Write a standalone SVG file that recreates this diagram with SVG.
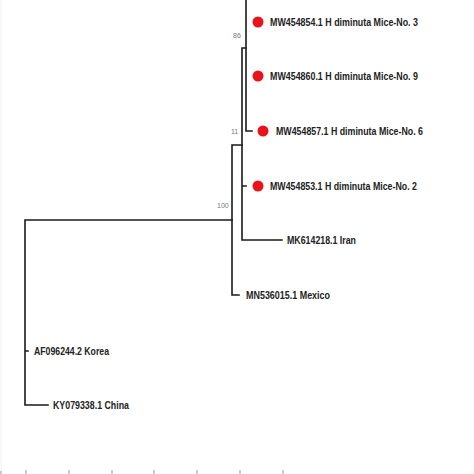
<svg xmlns="http://www.w3.org/2000/svg" width="474" height="474" viewBox="0 0 474 474">
<style>
.br{stroke:#1a1a1a;stroke-width:1.6;fill:none;stroke-linecap:square}
.lb{font-family:"Liberation Sans",Arial,sans-serif;font-size:11px;font-weight:bold;fill:#222}
.bs{font-family:"Liberation Sans",Arial,sans-serif;font-size:7px;fill:#777}
.dot{fill:#e8141c}
.tk{stroke:#999;stroke-width:1}
</style>
<rect width="474" height="474" fill="#fff"/>
<line x1="1" y1="0" x2="1" y2="474" stroke="#f0f0f0" stroke-width="1"/>
<g id="connectors">
<path class="br" d="M25,220 H232 M25,220 V405 H48 M25,351 H28"/>
<path class="br" d="M232,145 V295 H239 M232,145 H242"/>
<path class="br" d="M242,48 V240 H282 M242,186 H246 M242,48 H246"/>
<path class="br" d="M246,0 V131 H252"/>
</g>
<g id="bootstrap">
<text class="bs" x="233" y="38">86</text>
<text class="bs" x="231" y="134">11</text>
<text class="bs" x="217" y="208">100</text>
</g>
<g id="n3"><circle class="dot" cx="258" cy="22" r="5.5"/><text class="lb" x="270" y="26" textLength="148" lengthAdjust="spacingAndGlyphs">MW454854.1 H diminuta Mice-No. 3</text></g>
<g id="n9"><circle class="dot" cx="258" cy="76" r="5.5"/><text class="lb" x="270" y="80" textLength="148" lengthAdjust="spacingAndGlyphs">MW454860.1 H diminuta Mice-No. 9</text></g>
<g id="n6"><circle class="dot" cx="263" cy="131" r="5.5"/><text class="lb" x="276" y="135" textLength="147" lengthAdjust="spacingAndGlyphs">MW454857.1 H diminuta Mice-No. 6</text></g>
<g id="n2"><circle class="dot" cx="258" cy="186" r="5.5"/><text class="lb" x="270" y="190" textLength="147" lengthAdjust="spacingAndGlyphs">MW454853.1 H diminuta Mice-No. 2</text></g>
<g id="iran"><text class="lb" x="287" y="244" textLength="69" lengthAdjust="spacingAndGlyphs">MK614218.1 Iran</text></g>
<g id="mexico"><text class="lb" x="246" y="299" textLength="84" lengthAdjust="spacingAndGlyphs">MN536015.1 Mexico</text></g>
<g id="korea"><text class="lb" x="34" y="355" textLength="75" lengthAdjust="spacingAndGlyphs">AF096244.2 Korea</text></g>
<g id="china"><text class="lb" x="53" y="409" textLength="76" lengthAdjust="spacingAndGlyphs">KY079338.1 China</text></g>
<g id="axis">
<line class="tk" x1="1" y1="471" x2="1" y2="474"/>
<line class="tk" x1="26" y1="470" x2="26" y2="474"/>
<line class="tk" x1="69" y1="470" x2="69" y2="474"/>
<line class="tk" x1="112" y1="470" x2="112" y2="474"/>
<line class="tk" x1="154" y1="470" x2="154" y2="474"/>
<line class="tk" x1="197" y1="470" x2="197" y2="474"/>
<line class="tk" x1="240" y1="470" x2="240" y2="474"/>
<line class="tk" x1="283" y1="470" x2="283" y2="474"/>
</g>
</svg>
